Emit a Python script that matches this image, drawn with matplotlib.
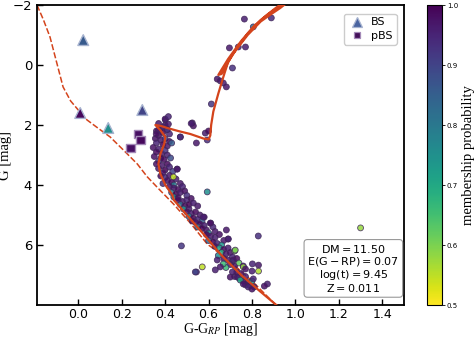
import numpy as np
import matplotlib
matplotlib.use("Agg")
import matplotlib.pyplot as plt
from matplotlib.lines import Line2D

# ---- data ----
# cluster members: colour G-G_RP, magnitude G, membership probability
mem_x = [0.37, 0.40, 0.38, 0.36, 0.41, 0.39, 0.42, 0.37,
         0.355, 0.38, 0.40, 0.42, 0.36, 0.39, 0.41, 0.345, 0.37, 0.43,
         0.36, 0.385, 0.40, 0.35, 0.38, 0.41, 0.37, 0.395, 0.425,
         0.36, 0.385, 0.41, 0.37, 0.40, 0.42, 0.39, 0.435, 0.455,
         0.38, 0.40, 0.42, 0.41, 0.43, 0.45, 0.39, 0.44, 0.47,
         0.42, 0.44, 0.46, 0.48, 0.43, 0.45, 0.47, 0.49, 0.50, 0.44, 0.46,
         0.46, 0.48, 0.50, 0.52, 0.47, 0.49, 0.51, 0.53, 0.55, 0.485, 0.51,
         0.50, 0.52, 0.54, 0.56, 0.51, 0.53, 0.55, 0.58, 0.57, 0.525,
         0.54, 0.56, 0.58, 0.61, 0.55, 0.57, 0.59, 0.62, 0.60, 0.63,
         0.59, 0.61, 0.63, 0.65, 0.60, 0.62, 0.64, 0.67, 0.69, 0.66,
         0.63, 0.65, 0.67, 0.69, 0.66, 0.68, 0.70, 0.72, 0.71, 0.645,
         0.67, 0.69, 0.71, 0.73, 0.70, 0.72, 0.74, 0.76, 0.68,
         0.73, 0.75, 0.72, 0.74, 0.77, 0.76, 0.78, 0.80, 0.79, 0.81,
         # scattered / evolved stars
         0.401, 0.415, 0.525, 0.53, 0.47, 0.544, 0.585, 0.60, 0.594, 0.369,
         0.359, 0.392, 0.456, 0.594, 0.438, 0.576, 0.608, 0.682, 0.691, 0.829,
         0.475, 0.723, 0.714, 0.571, 0.544, 0.631, 0.668, 0.802, 0.83, 0.83,
         0.80, 0.76, 0.77, 0.806, 0.733, 0.746, 0.871, 0.857, 0.77, 0.783,
         0.80, 0.76, 0.71, 0.70, 0.654, 0.64,
         0.765, 0.889, 0.806, 0.696, 0.737, 0.77, 0.71, 0.64, 0.654, 0.668,
         0.682, 0.613, 0.47, 0.52, 0.40, 0.415, 0.41, 1.30, 0.539]
mem_G = [1.95, 2.0, 2.1, 2.2, 2.15, 2.25, 2.3, 2.35,
         2.45, 2.5, 2.45, 2.55, 2.6, 2.65, 2.7, 2.75, 2.8, 2.6,
         2.9, 2.95, 2.85, 3.05, 3.1, 3.0, 3.2, 3.15, 3.1,
         3.3, 3.35, 3.3, 3.45, 3.5, 3.4, 3.6, 3.55, 3.47,
         3.7, 3.75, 3.68, 3.85, 3.9, 3.8, 3.95, 4.0, 3.95,
         4.05, 4.1, 4.15, 4.05, 4.25, 4.3, 4.25, 4.2, 4.35, 4.4, 4.42,
         4.5, 4.55, 4.5, 4.45, 4.65, 4.7, 4.65, 4.6, 4.7, 4.8, 4.8,
         4.9, 4.95, 4.9, 5.0, 5.05, 5.1, 5.15, 5.07, 5.2, 5.2,
         5.25, 5.3, 5.35, 5.27, 5.4, 5.45, 5.5, 5.4, 5.6, 5.55,
         5.65, 5.7, 5.75, 5.65, 5.85, 5.9, 5.95, 5.85, 5.8, 6.0,
         6.05, 6.1, 6.15, 6.1, 6.25, 6.3, 6.25, 6.2, 6.4, 6.35,
         6.45, 6.5, 6.55, 6.45, 6.65, 6.7, 6.6, 6.7, 6.75,
         6.9, 6.95, 7.05, 7.1, 7.05, 7.2, 7.25, 7.2, 7.35, 7.4,
         1.83, 1.97, 1.93, 2.03, 2.4, 2.6, 2.27, 2.2, 2.5, 2.17,
         2.3, 2.07, 3.47, 4.23, 3.73, 5.07, 5.27, 5.5, 5.8, 5.7,
         6.03, 6.17, 6.5, 6.73, 6.9, 6.83, 6.63, 6.63, 6.67, 6.87,
         6.87, 6.73, 6.8, 7.13, 7.07, 7.17, 7.3, 7.37, 7.33, 7.4,
         7.47, 7.3, 6.9, 7.07, 6.73, 6.5,
         -1.53, -1.57, -1.27, -0.57, -0.6, -0.6, 0.1, 0.47, 0.53, 0.6,
         0.73, 1.3, 2.4, 1.95, 1.8, 1.72, 2.15, 5.43, 6.9]
mem_p = [0.97, 0.99, 0.96, 0.98, 0.93, 1.0, 0.95, 0.99,
         0.98, 0.97, 0.92, 0.99, 0.95, 1.0, 0.97, 0.98, 0.96, 0.85,
         0.99, 0.97, 0.93, 0.98, 1.0, 0.96, 0.92, 0.99, 0.88,
         0.98, 0.97, 0.99, 0.96, 1.0, 0.95, 0.98, 0.90, 0.97,
         0.99, 0.94, 0.97, 0.98, 1.0, 0.96, 0.93, 0.78, 0.97,
         0.98, 0.97, 0.99, 0.95, 0.80, 1.0, 0.96, 0.98, 0.93, 0.76, 0.98,
         0.99, 0.97, 0.95, 0.98, 0.82, 0.99, 1.0, 0.96, 0.97, 0.74, 0.97,
         0.98, 0.96, 0.99, 0.97, 0.78, 1.0, 0.95, 0.98, 0.85, 0.99,
         0.97, 0.99, 0.96, 0.98, 0.80, 1.0, 0.98, 0.95, 0.76, 0.97,
         0.99, 0.97, 0.96, 0.98, 0.82, 1.0, 0.95, 0.97, 0.99, 0.74,
         0.98, 0.72, 0.99, 0.96, 0.68, 0.97, 0.98, 0.60, 0.95, 0.75,
         0.98, 0.97, 0.70, 0.99, 0.96, 0.98, 0.62, 0.97, 0.66,
         0.99, 0.97, 0.98, 0.72, 0.96, 0.99, 0.97, 0.70, 0.98, 0.96,
         0.95, 0.97, 0.96, 0.98, 0.95, 0.97, 0.96, 0.99, 0.93, 0.97,
         0.98, 0.95, 0.97, 0.75, 0.55, 0.96, 0.98, 0.97, 0.95, 0.93,
         0.92, 0.60, 0.97, 0.55, 0.92, 0.96, 0.66, 0.95, 0.97, 0.56,
         0.96, 0.58, 0.98, 0.95, 0.97, 0.70, 0.96, 0.98, 0.97, 0.95,
         0.98, 0.97, 0.96, 0.98, 0.97, 0.96,
         0.96, 0.94, 0.82, 0.97, 0.95, 0.96, 0.93, 0.98, 0.97, 0.96,
         0.97, 0.92, 0.94, 0.96, 0.97, 0.95, 0.93, 0.58, 0.90]

# blue stragglers
bs_x = [0.023, 0.009, 0.138, 0.295]
bs_G = [-0.83, 1.60, 2.10, 1.50]
bs_p = [0.86, 0.99, 0.75, 0.90]

# probable blue stragglers
pbs_x = [0.276, 0.286, 0.240]
pbs_G = [2.30, 2.50, 2.77]
pbs_p = [0.98, 0.99, 0.98]

# best-fit isochrone
iso_x = [0.912, 0.83, 0.75, 0.654, 0.576, 0.50, 0.44, 0.433, 0.401, 0.378,
         0.369, 0.378, 0.396, 0.401, 0.378, 0.355, 0.38, 0.41, 0.46, 0.516,
         0.576, 0.600, 0.608, 0.612, 0.622, 0.645, 0.668, 0.69, 0.73, 0.78,
         0.84, 0.90, 0.975,
         0.94, 0.875, 0.81, 0.75, 0.69, 0.645, 0.66, 0.71, 0.78, 0.84,
         0.885, 0.93, 1.0]
iso_G = [8.0, 7.5, 7.0, 6.3, 5.63, 5.0, 4.5, 4.33, 4.0, 3.63,
         3.3, 2.97, 2.63, 2.4, 2.17, 2.0, 2.03, 2.1, 2.2, 2.3,
         2.45, 2.48, 2.35, 2.0, 1.55, 0.95, 0.4, -0.1, -0.55, -1.05,
         -1.5, -1.85, -2.25,
         -2.0, -1.7, -1.3, -0.8, -0.2, 0.33, 0.3, -0.35, -1.0, -1.45,
         -1.68, -1.9, -2.3]

# dashed sequence
zams_x = [-0.19, -0.16, -0.13, -0.10, -0.07, -0.035, 0.0, 0.04, 0.09, 0.147,
          0.21, 0.272, 0.318, 0.38, 0.438, 0.52, 0.594, 0.687, 0.80, 0.91]
zams_G = [-2.0, -1.5, -0.93, -0.1, 0.73, 1.2, 1.5, 1.83, 2.1, 2.4,
          2.85, 3.3, 3.73, 4.2, 4.63, 5.3, 5.97, 6.47, 7.2, 8.0]

xticks = [0.0, 0.2, 0.4, 0.6, 0.8, 1.0, 1.2, 1.4]
yticks = [-2, 0, 2, 4, 6]
cbar_ticks = [0.5, 0.6, 0.7, 0.8, 0.9, 1.0]
params_text = (r"$\mathrm{DM = 11.50}$" "\n"
               r"$\mathrm{E(G-RP) = 0.07}$" "\n"
               r"$\mathrm{\log(t) = 9.45}$" "\n"
               r"$\mathrm{Z = 0.011}$")

# ---- figure ----
W, H = 474, 338
fig = plt.figure(figsize=(W / 100, H / 100), dpi=100)
ax = fig.add_axes([37 / W, 33 / H, 367 / W, 300 / H])
cax = fig.add_axes([427 / W, 33 / H, 15 / W, 300 / H])

cmap = plt.get_cmap('viridis_r')
norm = matplotlib.colors.Normalize(vmin=0.5, vmax=1.0)
line_col = '#d4441c'

ax.plot(zams_x, zams_G, color=line_col, lw=1.1, ls=(0, (4, 1.5)), zorder=2)

ax.scatter(mem_x, mem_G, c=mem_p, cmap=cmap, norm=norm, s=18, alpha=0.85,
           edgecolors=(0.25, 0.15, 0.35, 0.7), linewidths=0.6, zorder=3)

ax.plot(iso_x, iso_G, color=line_col, lw=1.6, zorder=4)

ax.scatter(bs_x, bs_G, c=bs_p, cmap=cmap, norm=norm, marker='^', s=60,
           edgecolors='#a8b4d0', linewidths=1.0, zorder=5)
ax.scatter(pbs_x, pbs_G, c=pbs_p, cmap=cmap, norm=norm, marker='s', s=36,
           edgecolors='#a48ab8', linewidths=1.0, zorder=5)

ax.set_xlim(-0.19, 1.5)
ax.set_ylim(8.0, -2.0)
ax.set_xticks(xticks)
ax.set_yticks(yticks)
ax.tick_params(direction='in', length=4, width=1, labelsize=9.5)
ax.tick_params(axis='x', pad=2, labelsize=9)
for s in ax.spines.values():
    s.set_linewidth(1.3)

ax.set_xlabel('G-G$_{RP}$ [mag]', family='Liberation Serif', math_fontfamily='stix',
              fontsize=10, labelpad=0)
ax.set_ylabel('G [mag]', family='Liberation Serif', fontsize=10.5, labelpad=0.5)

handles = [Line2D([], [], marker='^', ls='', markersize=6.5, markerfacecolor='#4a64a0',
                  markeredgecolor='#a8b4d0', markeredgewidth=0.9),
           Line2D([], [], marker='s', ls='', markersize=5, markerfacecolor='#44105a',
                  markeredgecolor='#a48ab8', markeredgewidth=0.9)]
ax.legend(handles, ['BS', 'pBS'], loc='upper right', fontsize=8,
          handletextpad=0.5, borderpad=0.35, labelspacing=0.3, handlelength=1.6,
          framealpha=1, edgecolor='#cccccc', bbox_to_anchor=(0.995, 0.99))

ax.text(0.862, 0.122, params_text, transform=ax.transAxes, ha='center', va='center',
        fontsize=8, linespacing=1.0, math_fontfamily='dejavusans',
        multialignment='center',
        bbox=dict(boxstyle='round,pad=0.3', facecolor='white', edgecolor='#999999', lw=0.8))

sm = matplotlib.cm.ScalarMappable(norm=norm, cmap=cmap)
cb = fig.colorbar(sm, cax=cax, ticks=cbar_ticks)
cb.ax.tick_params(labelsize=5, length=2, width=0.6, pad=1.5)
cb.outline.set_linewidth(0.8)
cb.set_label('membership probability', family='Liberation Serif', fontsize=10.5, labelpad=3)

fig.savefig('out.png', dpi=100)
